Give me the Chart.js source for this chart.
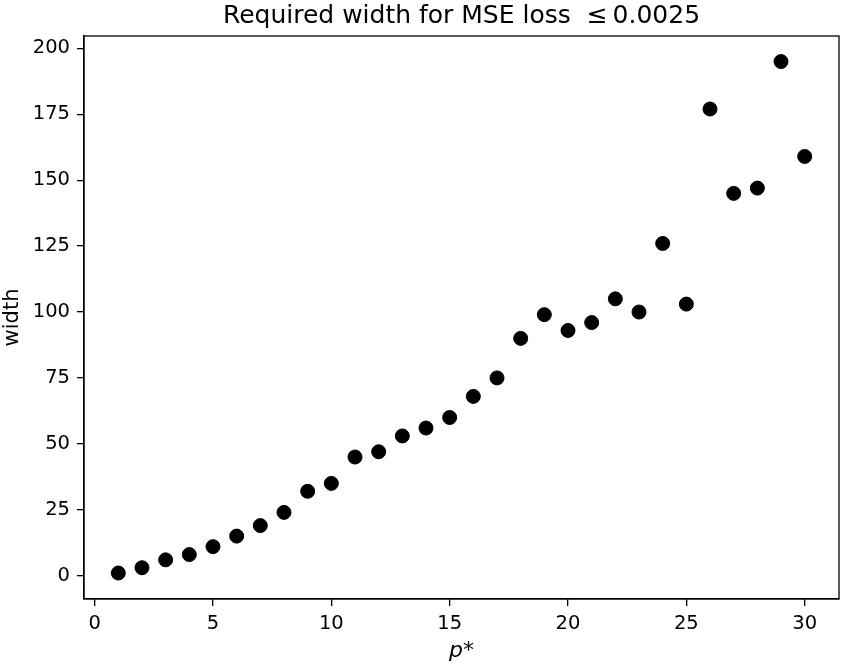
<!DOCTYPE html>
<html>
<head>
<meta charset="utf-8">
<script src="https://cdn.jsdelivr.net/npm/chart.js@4"></script>
<style>
  html, body { margin: 0; padding: 0; background: #fff; }
</style>
</head>
<body>
<canvas id="myChart" width="844" height="664"></canvas>
<script>
// p* values and the required width
const pStar = [1, 2, 3, 4, 5, 6, 7, 8, 9, 10, 11, 12, 13, 14, 15, 16, 17, 18, 19, 20, 21, 22, 23, 24, 25, 26, 27, 28, 29, 30];
const widths = [1, 3, 6, 8, 11, 15, 19, 24, 32, 35, 45, 47, 53, 56, 60, 68, 75, 90, 99, 93, 96, 105, 100, 126, 103, 177, 145, 147, 195, 159];
const xTicks = [0, 5, 10, 15, 20, 25, 30];
const yTicks = [0, 25, 50, 75, 100, 125, 150, 175, 200];

const font = "DejaVu Sans";

// matplotlib style frame on all four sides
const boxPlugin = {
  id: 'box',
  afterDraw(chart) {
    const a = chart.chartArea;
    const ctx = chart.ctx;
    ctx.save();
    ctx.strokeStyle = '#000';
    ctx.lineWidth = 1.3;
    ctx.strokeRect(a.left, a.top, a.right - a.left, a.bottom - a.top);
    ctx.restore();
  }
};

let points = pStar.map((p, i) => ({ x: p, y: widths[i] }));

let ctx = document.getElementById('myChart').getContext('2d');
let chart = new Chart(ctx, {
  type: 'scatter',
  data: {
    datasets: [{
      data: points,
      backgroundColor: '#000',
      borderColor: '#000',
      pointRadius: 7,
      pointHoverRadius: 7
    }]
  },
  plugins: [boxPlugin],
  options: {
    responsive: false,
    animation: false,
    devicePixelRatio: 1,
    layout: { autoPadding: false, padding: { left: 0, right: 5, top: 0, bottom: 0 } },
    plugins: {
      legend: { display: false },
      tooltip: { enabled: false },
      title: {
        display: true,
        fullSize: false,
        text: 'Required width for MSE loss  \u2264\u20090.0025',
        color: '#000',
        font: { family: font, size: 25, weight: 'normal' },
        padding: { top: 1, bottom: 5 }
      }
    },
    scales: {
      x: {
        type: 'linear',
        min: -0.45,
        max: 31.45,
        afterBuildTicks: s => { s.ticks = xTicks.map(v => ({ value: v })); },
        afterFit: s => { s.height = 65; s.paddingLeft = 0; s.paddingRight = 0; },
        grid: { display: true, drawOnChartArea: false, drawTicks: true, tickLength: 7, color: '#000', lineWidth: 1.3 },
        border: { display: true, color: '#000', width: 1.3 },
        ticks: { color: '#000', font: { family: font, size: 19.5 }, padding: 6, maxRotation: 0 },
        title: {
          display: true,
          text: 'p*',
          color: '#000',
          font: { family: font, size: 22, style: 'italic' },
          padding: { top: 0, bottom: 0 }
        }
      },
      y: {
        type: 'linear',
        min: -8.85,
        max: 204.7,
        afterBuildTicks: s => { s.ticks = yTicks.map(v => ({ value: v })); },
        afterFit: s => { s.width = 84; s.paddingTop = 0; s.paddingBottom = 0; },
        grid: { display: true, drawOnChartArea: false, drawTicks: true, tickLength: 7, color: '#000', lineWidth: 1.3 },
        border: { display: true, color: '#000', width: 1.3 },
        ticks: { color: '#000', font: { family: font, size: 19.5 }, padding: 7 },
        title: {
          display: true,
          text: 'width',
          color: '#000',
          font: { family: font, size: 21 },
          padding: { top: 0, bottom: 0 }
        }
      }
    }
  }
});
</script>
</body>
</html>
